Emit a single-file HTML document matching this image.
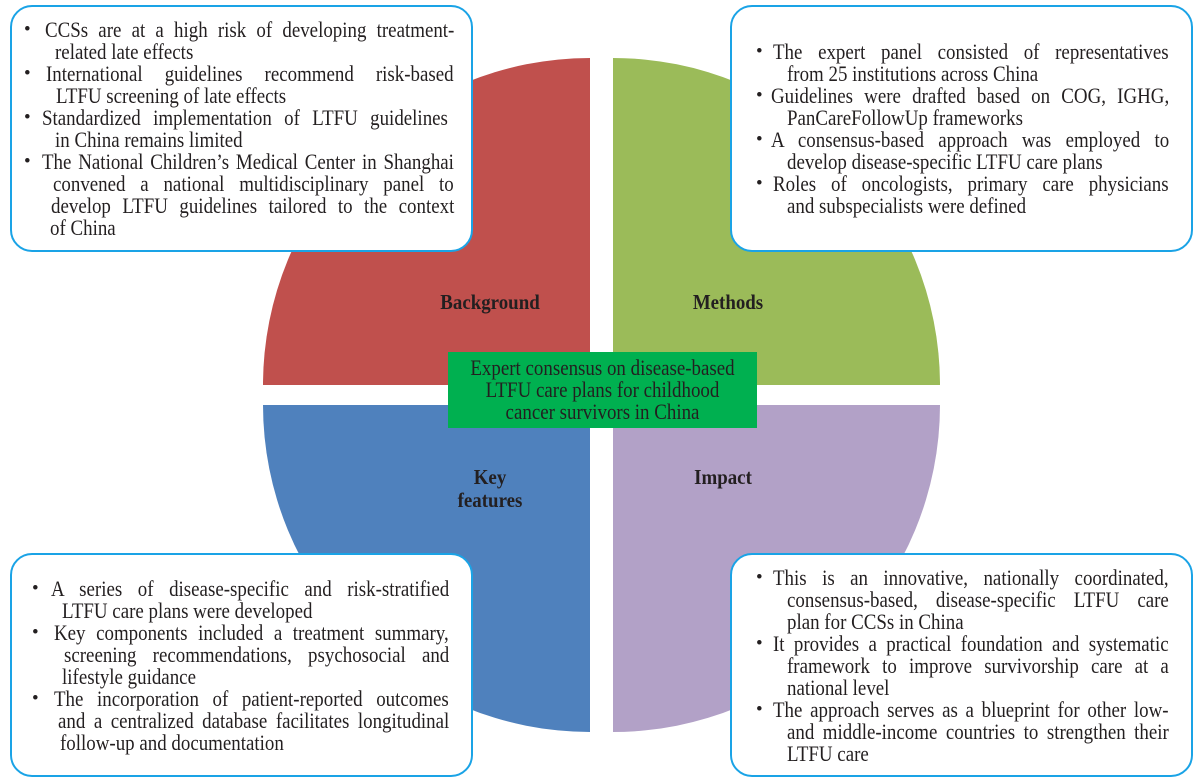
<!DOCTYPE html>
<html><head><meta charset="utf-8"><style>
body{margin:0;width:1200px;height:782px;background:#fff;position:relative;overflow:hidden;font-family:"Liberation Serif",serif;}
svg{position:absolute;left:0;top:0}
.box{position:absolute;border:2px solid #1aa3e6;border-radius:22px;background:#fff;box-sizing:border-box}
.l{position:absolute;font-size:22px;line-height:22px;white-space:nowrap;color:#231f20;transform:scaleX(.86);transform-origin:0 0}
.j{text-align:justify;text-align-last:justify}
.b{position:absolute;font-size:19px;line-height:22px;color:#231f20}
.lab{position:absolute;font-weight:bold;font-size:21px;line-height:23px;color:#231f20;text-align:center;transform:scaleX(0.9)}
.c{position:absolute;left:448px;top:352px;width:309px;height:76px;background:#00b050;}
.ct{position:absolute;left:-25px;top:5px;width:359px;color:#231f20;font-size:22px;line-height:22px;text-align:center;transform:scaleX(.86);transform-origin:50% 0;white-space:nowrap}
</style></head><body>
<svg width="1200" height="782">
<path d="M590,385 L263,385 A327,327 0 0 1 590,58 Z" fill="#c0504d"/>
<path d="M613,385 L613,58 A327,327 0 0 1 940,385 Z" fill="#9bbb59"/>
<path d="M590,405 L590,732 A327,327 0 0 1 263,405 Z" fill="#4f81bd"/>
<path d="M613,405 L940,405 A327,327 0 0 1 613,732 Z" fill="#b2a1c7"/>
</svg>
<div class="lab" style="left:420px;top:291px;width:140px">Background</div>
<div class="lab" style="left:668px;top:291px;width:120px">Methods</div>
<div class="lab" style="left:430px;top:466px;width:120px">Key<br>features</div>
<div class="lab" style="left:663px;top:466px;width:120px">Impact</div>
<div class="c"><div class="ct">Expert consensus on disease-based<br>LTFU care plans for childhood<br>cancer survivors in China</div></div>

<div class="box" style="left:10px;top:5px;width:463px;height:247px"></div>
<div class="b" style="left:24px;top:19px">•</div>
<div class="l j" style="left:45px;top:19px;width:476px">CCSs are at a high risk of developing treatment-</div>
<div class="l" style="left:55px;top:41px">related late effects</div>
<div class="b" style="left:24px;top:63px">•</div>
<div class="l j" style="left:46px;top:63px;width:474px">International guidelines recommend risk-based</div>
<div class="l" style="left:56px;top:85px">LTFU screening of late effects</div>
<div class="b" style="left:24px;top:107px">•</div>
<div class="l j" style="left:42px;top:107px;width:472px">Standardized implementation of LTFU guidelines</div>
<div class="l" style="left:55px;top:129px">in China remains limited</div>
<div class="b" style="left:24px;top:151px">•</div>
<div class="l j" style="left:42px;top:151px;width:479px">The National Children’s Medical Center in Shanghai</div>
<div class="l j" style="left:53px;top:173px;width:466px">convened a national multidisciplinary panel to</div>
<div class="l j" style="left:51px;top:195px;width:469px">develop LTFU guidelines tailored to the context</div>
<div class="l" style="left:50px;top:217px">of China</div>

<div class="box" style="left:730px;top:5px;width:463px;height:247px"></div>
<div class="b" style="left:756px;top:41px">•</div>
<div class="l j" style="left:773px;top:41px;width:460px">The expert panel consisted of representatives</div>
<div class="l" style="left:787px;top:63px">from 25 institutions across China</div>
<div class="b" style="left:756px;top:85px">•</div>
<div class="l j" style="left:771px;top:85px;width:463px">Guidelines were drafted based on COG, IGHG,</div>
<div class="l" style="left:787px;top:107px">PanCareFollowUp frameworks</div>
<div class="b" style="left:756px;top:129px">•</div>
<div class="l j" style="left:771px;top:129px;width:463px">A consensus-based approach was employed to</div>
<div class="l" style="left:787px;top:151px">develop disease-specific LTFU care plans</div>
<div class="b" style="left:756px;top:173px">•</div>
<div class="l j" style="left:773px;top:173px;width:460px">Roles of oncologists, primary care physicians</div>
<div class="l" style="left:787px;top:195px">and subspecialists were defined</div>

<div class="box" style="left:10px;top:553px;width:463px;height:224px"></div>
<div class="b" style="left:32px;top:578px">•</div>
<div class="l j" style="left:51px;top:578px;width:463px">A series of disease-specific and risk-stratified</div>
<div class="l" style="left:62px;top:600px">LTFU care plans were developed</div>
<div class="b" style="left:32px;top:622px">•</div>
<div class="l j" style="left:54px;top:622px;width:459px">Key components included a treatment summary,</div>
<div class="l j" style="left:64px;top:644px;width:448px">screening recommendations, psychosocial and</div>
<div class="l" style="left:62px;top:666px">lifestyle guidance</div>
<div class="b" style="left:32px;top:688px">•</div>
<div class="l j" style="left:54px;top:688px;width:459px">The incorporation of patient-reported outcomes</div>
<div class="l j" style="left:58px;top:710px;width:455px">and a centralized database facilitates longitudinal</div>
<div class="l" style="left:60px;top:732px">follow-up and documentation</div>

<div class="box" style="left:730px;top:553px;width:463px;height:224px"></div>
<div class="b" style="left:756px;top:567px">•</div>
<div class="l j" style="left:773px;top:567px;width:460px">This is an innovative, nationally coordinated,</div>
<div class="l j" style="left:787px;top:589px;width:444px">consensus-based, disease-specific LTFU care</div>
<div class="l" style="left:787px;top:611px">plan for CCSs in China</div>
<div class="b" style="left:756px;top:633px">•</div>
<div class="l j" style="left:773px;top:633px;width:460px">It provides a practical foundation and systematic</div>
<div class="l j" style="left:787px;top:655px;width:444px">framework to improve survivorship care at a</div>
<div class="l" style="left:787px;top:677px">national level</div>
<div class="b" style="left:756px;top:699px">•</div>
<div class="l j" style="left:773px;top:699px;width:460px">The approach serves as a blueprint for other low-</div>
<div class="l j" style="left:787px;top:721px;width:444px">and middle-income countries to strengthen their</div>
<div class="l" style="left:787px;top:743px">LTFU care</div>
</body></html>
